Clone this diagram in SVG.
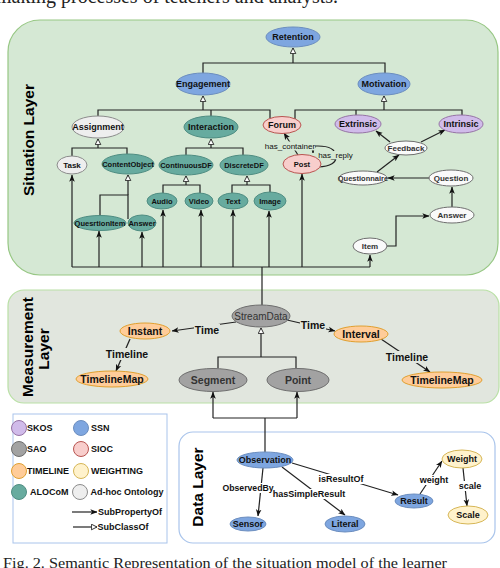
<svg xmlns="http://www.w3.org/2000/svg" width="500" height="568" viewBox="0 0 500 568">
<style>
text{font-family:"Liberation Sans",Arial,sans-serif;font-weight:bold;fill:#111;text-anchor:middle;dominant-baseline:central}
.cap{font-family:"Liberation Serif","Times New Roman",serif;font-weight:normal;fill:#222;text-anchor:start;dominant-baseline:alphabetic}
.lay{font-size:15.5px;fill:#000;dominant-baseline:alphabetic}
.lg{text-anchor:start;font-size:9px}
.nw{font-weight:normal}
.e{fill:none;stroke:#222;stroke-width:1.2}
.a{marker-end:url(#fil)}
.h{marker-end:url(#hol)}
.ssn{fill:#7ea6e0;stroke:#6c8ebf}
.skos{fill:#d0bbea;stroke:#9673a6}
.sao{fill:#a2a2a2;stroke:#6e6e6e}
.sioc{fill:#f8cecc;stroke:#b85450}
.tl{fill:#ffcc99;stroke:#e0a030}
.wt{fill:#fff2cc;stroke:#d6b656}
.alo{fill:#67ab9f;stroke:#4f8d82}
.adh{fill:#eeeeee;stroke:#8c8c8c}
.wh{fill:#fafafa;stroke:#6e6e6e}
ellipse,circle{stroke-width:1}
.g{fill:#333}
</style>
<defs>
<marker id="fil" viewBox="0 0 10 10" refX="9.5" refY="5" markerWidth="7" markerHeight="7" markerUnits="userSpaceOnUse" orient="auto"><path d="M0,1 L10,5 L0,9 L2.5,5 z" fill="#111"/></marker>
<marker id="hol" viewBox="0 0 10 10" refX="9" refY="5" markerWidth="7" markerHeight="7" markerUnits="userSpaceOnUse" orient="auto"><path d="M1,1 L9,5 L1,9 z" fill="#fff" stroke="#222" stroke-width="1.3"/></marker>
</defs>

<text class="cap" x="-4" y="2.5" font-size="20">making processes of teachers and analysts.</text>
<text class="cap" x="3" y="567.5" font-size="15" textLength="444" lengthAdjust="spacingAndGlyphs">Fig. 2. Semantic Representation of the situation model of the learner</text>

<g id="layers">
<rect x="8" y="20" width="490" height="255" rx="32" fill="#d5e8d4" stroke="#97c784" stroke-width="1.2"/>
<rect x="8" y="290" width="491" height="113" rx="16" fill="#e1e6de" stroke="#b9e0a5" stroke-width="1.2"/>
<rect x="179" y="432" width="316" height="111" rx="14" fill="#ffffff" stroke="#a9c4eb" stroke-width="1.2"/>
<text class="lay" transform="translate(34,140) rotate(-90)">Situation Layer</text>
<text class="lay" transform="translate(33,347) rotate(-90)">Measurement</text>
<text class="lay" transform="translate(48.5,349) rotate(-90)">Layer</text>
<text class="lay" transform="translate(203,487) rotate(-90)">Data Layer</text>
</g>

<g id="connectors">
<path class="e h" d="M293,63 V48"/>
<path class="e" d="M203,73 V63 H385 V73"/>
<path class="e h" d="M203,110 V96"/>
<path class="e" d="M98,116 V110 H270 V118 M211,110 V116"/>
<path class="e h" d="M384,110 V96"/>
<path class="e" d="M295,119 V110 H462 V115 M356,110 V115"/>
<path class="e h" d="M98,148 V139"/>
<path class="e" d="M72,156 V148 H127 V154"/>
<path class="e h" d="M211,148 V139"/>
<path class="e" d="M186,155 V148 H243 V155"/>
<path class="e h" d="M128,195 V175"/>
<path class="e" d="M100,216 V195 H128 V219"/>
<path class="e h" d="M186,185 V176"/>
<path class="e" d="M163,193 V185 H200 V193"/>
<path class="e h" d="M247,185 V176"/>
<path class="e" d="M232,193 V185 H270 V192"/>
<path class="e" d="M72,267 H370 M262,267 V305"/>
<path class="e a" d="M72,267 V175"/>
<path class="e a" d="M99,267 V231"/>
<path class="e a" d="M142,267 V232"/>
<path class="e a" d="M163,267 V210"/>
<path class="e a" d="M201,267 V210"/>
<path class="e a" d="M233,267 V210"/>
<path class="e a" d="M269,267 V211"/>
<path class="e a" d="M302,267 V174"/>
<path class="e a" d="M370,267 V255"/>
<path class="e a" d="M298,155 L284,133"/>
<path class="e a" d="M318,167 Q337,166 336,156 Q335,146 318,146 L313,146 L313,153"/>
<path class="e a" d="M390,142 L376,131"/>
<path class="e a" d="M421,142 L445,130"/>
<path class="e a" d="M377,172 L399,155"/>
<path class="e a" d="M430,178 L388,178"/>
<path class="e a" d="M452,207 V187"/>
<path class="e a" d="M387,246 H396 V216 H429"/>
<path class="e h" d="M261,357 V328"/>
<path class="e" d="M218,368 V357 H296 V368"/>
<path class="e a" d="M236,322 L172,331"/>
<path class="e a" d="M287,320 L335,331"/>
<path class="e a" d="M130,339 L116,371"/>
<path class="e a" d="M381,339 L430,372"/>
<path class="e a" d="M213,418 V392"/>
<path class="e a" d="M297,418 V392"/>
<path class="e" d="M213,418 H297 M265,418 V452"/>
<path class="e a" d="M263,468 L258,516"/>
<path class="e a" d="M282,467 L345,515"/>
<path class="e a" d="M292,463 L398,495"/>
<path class="e a" d="M420,494 L442,461"/>
<path class="e a" d="M463,468 L467,506"/>
<g id="edge-labels">
<rect x="265" y="141.5" width="50" height="9" fill="#d5e8d4"/>
<text class="nw" x="290" y="146" font-size="8">has_container</text>
<rect x="318" y="151" width="35" height="8.5" fill="#d5e8d4"/>
<text class="nw" x="335.5" y="155" font-size="8">has_reply</text>
<rect x="194" y="324" width="26" height="12" fill="#e1e6de"/>
<text x="207" y="330" font-size="10.5">Time</text>
<rect x="300" y="319" width="26" height="12" fill="#e1e6de"/>
<text x="313" y="325" font-size="10.5">Time</text>
<rect x="105" y="348" width="44" height="12" fill="#e1e6de"/>
<text x="127" y="354" font-size="10.5">Timeline</text>
<rect x="385" y="351" width="44" height="12" fill="#e1e6de"/>
<text x="407" y="357" font-size="10.5">Timeline</text>
<rect x="222" y="483" width="52" height="10" fill="#fff"/>
<text x="248" y="488" font-size="8.7">ObservedBy</text>
<rect x="273" y="489" width="72" height="10" fill="#fff"/>
<text x="309" y="494" font-size="9">hasSimpleResult</text>
<rect x="318" y="474" width="46" height="10" fill="#fff"/>
<text x="341" y="479" font-size="9">isResultOf</text>
<rect x="419" y="475" width="30" height="10" fill="#fff"/>
<text x="434" y="480" font-size="9">weight</text>
<rect x="458" y="481" width="24" height="10" fill="#fff"/>
<text x="470" y="486" font-size="9">scale</text>
</g>
</g>

<g id="Retention"><ellipse class="ssn" cx="293" cy="37" rx="27" ry="10"/><text x="293" y="37" font-size="9">Retention</text></g>
<g id="Engagement"><ellipse class="ssn" cx="203" cy="84" rx="27" ry="11"/><text x="203" y="84" font-size="9">Engagement</text></g>
<g id="Motivation"><ellipse class="ssn" cx="384" cy="84" rx="26" ry="11"/><text x="384" y="84" font-size="9">Motivation</text></g>
<g id="Assignment"><ellipse class="adh" cx="98" cy="127" rx="26" ry="11"/><text x="98" y="127" font-size="9">Assignment</text></g>
<g id="Interaction"><ellipse class="alo" cx="211" cy="127" rx="27" ry="11"/><text x="211" y="127" font-size="9">Interaction</text></g>
<g id="Forum"><ellipse class="sioc" cx="282" cy="125" rx="19" ry="8.5"/><text x="282" y="125" font-size="9">Forum</text></g>
<g id="Extrinsic"><ellipse class="skos" cx="358" cy="124" rx="23" ry="9"/><text x="358" y="124" font-size="9">Extrinsic</text></g>
<g id="Intrinsic"><ellipse class="skos" cx="461" cy="124" rx="22" ry="9"/><text x="461" y="124" font-size="9">Intrinsic</text></g>
<g id="Task"><ellipse class="adh" cx="72" cy="165" rx="15" ry="9"/><text x="72" y="165" font-size="8">Task</text></g>
<g id="ContentObject"><ellipse class="alo" cx="128" cy="164" rx="26" ry="10"/><text x="128" y="164" font-size="7.5">ContentObject</text></g>
<g id="ContinuousDF"><ellipse class="alo" cx="186" cy="165" rx="27" ry="10"/><text x="186" y="165" font-size="7.5">ContinuousDF</text></g>
<g id="DiscreteDF"><ellipse class="alo" cx="244" cy="165" rx="24" ry="10"/><text x="244" y="165" font-size="7.5">DiscreteDF</text></g>
<g id="Post"><ellipse class="sioc" cx="302" cy="164" rx="19" ry="9.5"/><text x="302" y="164" font-size="7.5">Post</text></g>
<g id="Feedback"><ellipse class="wh" cx="406" cy="148" rx="21" ry="7"/><text class="g" x="406" y="148" font-size="8">Feedback</text></g>
<g id="Questionnaire"><ellipse class="wh" cx="363" cy="178" rx="24" ry="7"/><text class="g" x="363" y="178" font-size="7.5">Questionnaire</text></g>
<g id="Question"><ellipse class="wh" cx="451" cy="178" rx="22" ry="8"/><text class="g" x="451" y="178" font-size="8">Question</text></g>
<g id="Answer-adhoc"><ellipse class="wh" cx="452" cy="215" rx="22" ry="8"/><text class="g" x="452" y="215" font-size="8">Answer</text></g>
<g id="Item"><ellipse class="wh" cx="370" cy="246" rx="17" ry="8"/><text class="g" x="370" y="246" font-size="8">Item</text></g>
<g id="Audio"><ellipse class="alo" cx="162" cy="201" rx="15" ry="8"/><text x="162" y="201" font-size="7.5">Audio</text></g>
<g id="Video"><ellipse class="alo" cx="199" cy="201" rx="14" ry="8"/><text x="199" y="201" font-size="7.5">Video</text></g>
<g id="Text"><ellipse class="alo" cx="233" cy="201" rx="15" ry="8"/><text x="233" y="201" font-size="7.5">Text</text></g>
<g id="Image"><ellipse class="alo" cx="270" cy="201" rx="16" ry="9"/><text x="270" y="201" font-size="7.5">Image</text></g>
<g id="QuesrtionItem"><ellipse class="alo" cx="100" cy="223" rx="26" ry="7.5"/><text x="100" y="223" font-size="7.5">QuesrtionItem</text></g>
<g id="Answer"><ellipse class="alo" cx="142" cy="223" rx="14" ry="8"/><text x="142" y="223" font-size="7.5">Answer</text></g>

<g id="StreamData"><ellipse class="sao" cx="261" cy="316" rx="29" ry="11"/><text class="g nw" x="261" y="316" font-size="10">StreamData</text></g>
<g id="Segment"><ellipse class="sao" cx="213" cy="380" rx="34" ry="11.5"/><text class="g" x="213" y="380" font-size="10.5">Segment</text></g>
<g id="Point"><ellipse class="sao" cx="298" cy="380" rx="31" ry="11.5"/><text class="g" x="298" y="380" font-size="10.5">Point</text></g>
<g id="Instant"><ellipse class="tl" cx="145" cy="331" rx="25" ry="8"/><text x="145" y="331" font-size="10.5">Instant</text></g>
<g id="TimelineMap-1"><ellipse class="tl" cx="112" cy="379" rx="36" ry="8"/><text x="112" y="379" font-size="10.5">TimelineMap</text></g>
<g id="Interval"><ellipse class="tl" cx="361" cy="334" rx="27" ry="8"/><text x="361" y="334" font-size="10.5">Interval</text></g>
<g id="TimelineMap-2"><ellipse class="tl" cx="442" cy="380" rx="40" ry="8"/><text x="442" y="380" font-size="10.5">TimelineMap</text></g>

<g id="Observation"><ellipse class="ssn" cx="265" cy="460" rx="28" ry="8"/><text x="265" y="460" font-size="9">Observation</text></g>
<g id="Sensor"><ellipse class="ssn" cx="248" cy="524" rx="18" ry="7"/><text x="248" y="524" font-size="9">Sensor</text></g>
<g id="Literal"><ellipse class="ssn" cx="345" cy="524" rx="20" ry="8"/><text x="345" y="524" font-size="9">Literal</text></g>
<g id="Result"><ellipse class="ssn" cx="414" cy="501" rx="19" ry="7"/><text x="414" y="501" font-size="9">Result</text></g>
<g id="Weight"><ellipse class="wt" cx="462" cy="459" rx="20" ry="9"/><text x="462" y="459" font-size="9">Weight</text></g>
<g id="Scale"><ellipse class="wt" cx="468" cy="515" rx="20" ry="9"/><text x="468" y="515" font-size="9">Scale</text></g>

<g id="legend">
<rect x="13" y="414" width="154" height="129" fill="#fff" stroke="#a9c4eb" stroke-width="1"/>
<circle class="skos" cx="19" cy="428" r="7.5"/><text class="lg" x="27" y="428">SKOS</text>
<circle class="ssn" cx="81" cy="428" r="7.5"/><text class="lg" x="91" y="428">SSN</text>
<circle class="sao" cx="19" cy="449" r="7.5"/><text class="lg" x="27" y="449">SAO</text>
<circle class="sioc" cx="81" cy="449" r="7.5"/><text class="lg" x="91" y="449">SIOC</text>
<circle class="tl" cx="19" cy="471" r="7.5"/><text class="lg" x="27" y="471">TIMELINE</text>
<circle class="wt" cx="81" cy="471" r="7.5"/><text class="lg" x="91" y="471">WEIGHTING</text>
<circle class="alo" cx="19" cy="492" r="7.5"/><text class="lg" x="30" y="492">ALOCoM</text>
<circle class="adh" cx="80" cy="492" r="7.5"/><text class="lg" x="90.5" y="492">Ad-hoc Ontology</text>
<path class="e a" d="M72,512 H97"/><text class="lg" x="98" y="512">SubPropertyOf</text>
<path class="e h" d="M73,527 H97"/><text class="lg" x="97.5" y="527">SubClassOf</text>
</g>
</svg>
